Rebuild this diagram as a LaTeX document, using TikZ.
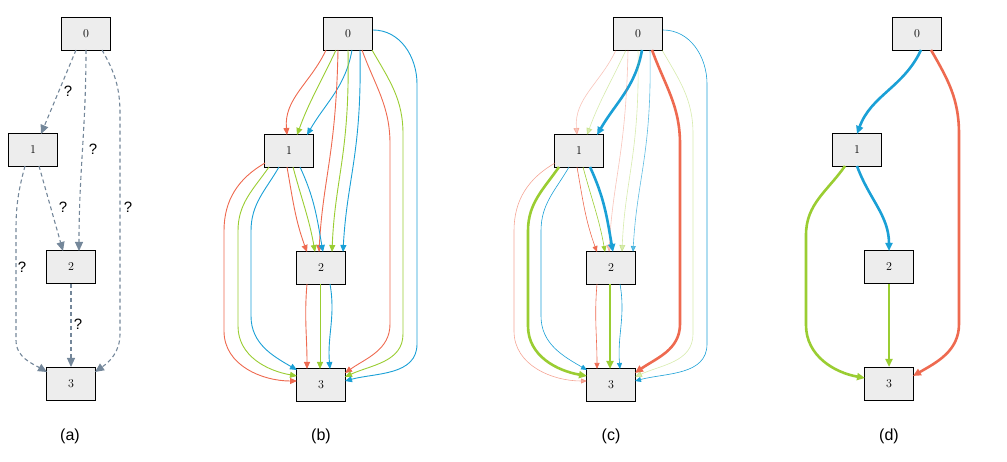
\documentclass[tikz,border=0pt]{standalone}
\usepackage{fontspec}
\newfontfamily\sfl{Liberation Sans}
\usetikzlibrary{arrows.meta}
\definecolor{cr}{HTML}{EE6A50}
\definecolor{cg}{HTML}{9ACD32}
\definecolor{cb}{HTML}{1AA0D6}
\definecolor{cq}{HTML}{74879A}
\begin{document}
\begin{tikzpicture}[x=1pt,y=-1pt,
  box/.style={draw=black,line width=1pt,fill=black!7,minimum width=49pt,minimum height=33pt,inner sep=0pt,font=\fontsize{12}{12}\selectfont},
  lbl/.style={font=\sfl\fontsize{16}{16}\selectfont},
  qm/.style={font=\sfl\fontsize{15}{15}\selectfont},
  ed/.style={line width=0.9pt,-{Triangle[length=7pt,width=6pt]}},
  qe/.style={draw=cq,line width=1.1pt,dash pattern=on 4pt off 3pt,-{Triangle[length=9pt,width=8pt]}},
  th/.style={line width=0.9pt},
  tk/.style={line width=2.6pt,-{Triangle[length=8pt,width=7pt]}},
  fd/.style={line width=0.6pt,opacity=0.4},
  tn/.style={line width=0.6pt,-{Triangle[length=6pt,width=5pt]}},
  b01r/.style=th, b01g/.style=th, b01b/.style=th,
  b02r/.style=th, b02g/.style=th, b02b/.style=th,
  b03r/.style=th, b03g/.style=th, b03b/.style=th,
  b12r/.style=th, b12g/.style=th, b12b/.style=th,
  b13r/.style=th, b13g/.style=th, b13b/.style=th,
  b23r/.style=th, b23g/.style=th, b23b/.style=th,
  c01r/.style=fd, c01g/.style=fd, c01b/.style=tk,
  c02r/.style=fd, c02g/.style=fd, c02b/.style={tn,opacity=0.7},
  c03r/.style=tk, c03g/.style=fd, c03b/.style=tn,
  c12r/.style=tn, c12g/.style=tn, c12b/.style=tk,
  c13r/.style={tn,opacity=0.6}, c13g/.style=tk, c13b/.style=tn,
  c23r/.style=tn, c23g/.style=tk, c23b/.style=tn]
\useasboundingbox (0,0) rectangle (1007,462);
\newcommand\panelx[1]{%
 \draw[ed,cr,#101r] ([shift={(-22,16)}]#10.center) to[out=-115,in=95] ([shift={(-2,-16)}]#11.center);
 \draw[ed,cg,#101g] ([shift={(-12,16)}]#10.center) to[out=-115,in=70] ([shift={(8,-16)}]#11.center);
 \draw[ed,cb,#101b] ([shift={(4,16)}]#10.center) to[out=-100,in=60] ([shift={(18,-16)}]#11.center);
 \draw[ed,cr,#102r] ([shift={(-10,16)}]#10.center) .. controls ([shift={(-12,120)}]#10.center) and ([shift={(2,-90)}]#12.center) .. ([shift={(-2,-16)}]#12.center);
 \draw[ed,cg,#102g] ([shift={(0,16)}]#10.center) .. controls ([shift={(2,120)}]#10.center) and ([shift={(14,-90)}]#12.center) .. ([shift={(11,-16)}]#12.center);
 \draw[ed,cb,#102b] ([shift={(12,16)}]#10.center) .. controls ([shift={(14,120)}]#10.center) and ([shift={(26,-90)}]#12.center) .. ([shift={(22,-16)}]#12.center);
 \draw[ed,cr,#103r] ([shift={(14,16)}]#10.center) to[out=-70,in=90] ([shift={(42,110)}]#10.center) -- ([shift={(42,290)}]#10.center) to[out=-90,in=35] ([shift={(24,-12)}]#13.center);
 \draw[ed,cg,#103g] ([shift={(24,16)}]#10.center) to[out=-60,in=90] ([shift={(55,100)}]#10.center) -- ([shift={(55,300)}]#10.center) to[out=-90,in=25] ([shift={(24,-8)}]#13.center);
 \draw[ed,cb,#103b] ([shift={(25,-4)}]#10.center) to[out=0,in=90] ([shift={(69,50)}]#10.center) -- ([shift={(69,310)}]#10.center) to[out=-90,in=15] ([shift={(24,-4)}]#13.center);
 \draw[ed,cr,#112r] ([shift={(-2,16)}]#11.center) to[out=-80,in=110] ([shift={(-14,-16)}]#12.center);
 \draw[ed,cg,#112g] ([shift={(4,16)}]#11.center) to[out=-75,in=100] ([shift={(-6,-16)}]#12.center);
 \draw[ed,cb,#112b] ([shift={(11,16)}]#11.center) to[out=-65,in=100] ([shift={(2,-16)}]#12.center);
 \draw[ed,cr,#113r] ([shift={(-24,12)}]#11.center) to[out=-150,in=90] ([shift={(-65,80)}]#11.center) -- ([shift={(-65,180)}]#11.center) to[out=-90,in=180] ([shift={(-24,-4)}]#13.center);
 \draw[ed,cg,#113g] ([shift={(-20,16)}]#11.center) to[out=-125,in=90] ([shift={(-51,80)}]#11.center) -- ([shift={(-51,175)}]#11.center) to[out=-90,in=170] ([shift={(-24,-9)}]#13.center);
 \draw[ed,cb,#113b] ([shift={(-10,16)}]#11.center) to[out=-120,in=90] ([shift={(-38,80)}]#11.center) -- ([shift={(-38,165)}]#11.center) to[out=-90,in=150] ([shift={(-24,-15)}]#13.center);
 \draw[ed,cr,#123r] ([shift={(-14,16)}]#12.center) to[out=-95,in=90] ([shift={(-14,-16)}]#13.center);
 \draw[ed,cg,#123g] ([shift={(-1,16)}]#12.center) -- ([shift={(-1,-16)}]#13.center);
 \draw[ed,cb,#123b] ([shift={(9,16)}]#12.center) to[out=-80,in=95] ([shift={(9,-16)}]#13.center);
}
% panel a
\node[box] (a0) at (86,34) {0};
\node[box] (a1) at (33,150) {1};
\node[box] (a2) at (71,267) {2};
\node[box] (a3) at (71,384) {3};
\draw[qe] ([shift={(-10,16)}]a0.center) -- ([shift={(8,-16)}]a1.center);
\draw[qe] ([shift={(0,16)}]a0.center) to[out=-90,in=90] ([shift={(8,-16)}]a2.center);
\draw[qe] ([shift={(16,16)}]a0.center) to[out=-60,in=90] ([shift={(34,80)}]a0.center) -- ([shift={(34,300)}]a0.center) to[out=-90,in=35] ([shift={(24,-12)}]a3.center);
\draw[qe] ([shift={(6,16)}]a1.center) -- ([shift={(-8,-16)}]a2.center);
\draw[qe] ([shift={(-8,16)}]a1.center) to[out=-105,in=90] ([shift={(-17,80)}]a1.center) -- ([shift={(-17,190)}]a1.center) to[out=-90,in=150] ([shift={(-24,-12)}]a3.center);
\draw[qe] (a2) -- (a3);
\node[qm] (q1) at (68,91) {?};
\node[qm] (q2) at (93,149) {?};
\node[qm] (q3) at (128,207) {?};
\node[qm] (q4) at (63,207) {?};
\node[qm] (q5) at (22,267) {?};
\node[qm] (q6) at (78,324) {?};
\node[lbl] (la) at (70,436) {(a)};
% panel b
\node[box] (b0) at (348,34) {0};
\node[box] (b1) at (289,151) {1};
\node[box] (b2) at (321,268) {2};
\node[box] (b3) at (321,385) {3};
\panelx{b}
\node[lbl] (lb) at (321,436) {(b)};
% panel c
\node[box] (c0) at (638,34) {0};
\node[box] (c1) at (579,151) {1};
\node[box] (c2) at (611,268) {2};
\node[box] (c3) at (611,385) {3};
\panelx{c}
\node[lbl] (lc) at (611,436) {(c)};
% panel d
\node[box] (d0) at (917,34) {0};
\node[box] (d1) at (857,150) {1};
\node[box] (d2) at (889,267) {2};
\node[box] (d3) at (889,384) {3};
\draw[tk,cb] ([shift={(4,16)}]d0.center) to[out=-115,in=70] ([shift={(0,-16)}]d1.center);
\draw[tk,cb] ([shift={(0,16)}]d1.center) to[out=-70,in=90] ([shift={(0,-16)}]d2.center);
\draw[tk,cg] (d2) -- (d3);
\draw[tk,cg] ([shift={(-12,16)}]d1.center) to[out=-125,in=90] ([shift={(-51,85)}]d1.center) -- ([shift={(-51,175)}]d1.center) to[out=-90,in=170] ([shift={(-24,-6)}]d3.center);
\draw[tk,cr] ([shift={(14,16)}]d0.center) to[out=-60,in=90] ([shift={(42,100)}]d0.center) -- ([shift={(42,290)}]d0.center) to[out=-90,in=30] ([shift={(24,-8)}]d3.center);
\node[lbl] (ld) at (889,436) {(d)};
\end{tikzpicture}
\end{document}
